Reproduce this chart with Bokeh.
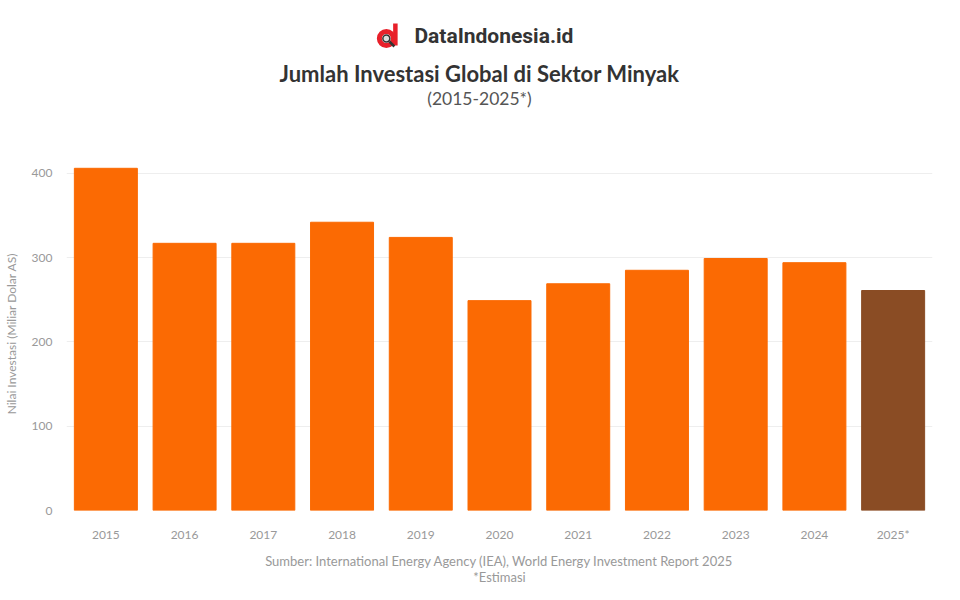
from bokeh.plotting import figure
from bokeh.models import ColumnDataSource, FixedTicker, Title
from bokeh.layouts import column
from bokeh.core.properties import value
from bokeh.embed import file_html
from bokeh.resources import INLINE

years = ["2015", "2016", "2017", "2018", "2019", "2020", "2021", "2022", "2023", "2024", "2025*"]
values = [406, 317, 317, 342, 324, 249, 269, 285, 299, 294, 261]
colors = ["#FB6A03"] * 10 + ["#8A4C24"]
y_ticks = [0, 100, 200, 300, 400]

W = 944
HH = 130
ML, MR = 64, 12
# ---------- header (data units ~ page pixels) ----------
h = figure(width=W, height=HH, x_range=(67.5, 932.5), y_range=(0, HH), output_backend="svg",
           toolbar_location=None, min_border_left=ML, min_border_right=MR,
           min_border_top=0, min_border_bottom=0)
h.axis.visible = False
h.grid.visible = False
h.outline_line_color = None
# logo (red "d" with magnifier)
h.circle(x=[387], y=[HH - 38], radius=7, fill_color="white", line_color="#E8202A", line_width=5)
h.rect(x=[396], y=[HH - 34], width=4.5, height=22, fill_color="#E8202A", line_color=None)
h.circle(x=[387], y=[HH - 38], radius=3.5, fill_color="#dddddd", line_color="#333333", line_width=1.5)
h.segment(x0=[390], y0=[HH - 41], x1=[395], y1=[HH - 46], line_color="#333333", line_width=2.5)
h.text(x=[415], y=[HH - 35], text=["DataIndonesia.id"], text_font=value("Roboto"),
       text_font_style="bold", text_font_size="21px", text_color="#333333",
       text_align="left", text_baseline="middle")
h.text(x=[480], y=[HH - 73], text=["Jumlah Investasi Global di Sektor Minyak"], text_font=value("Lato"),
       text_font_style="bold", text_font_size="22px", text_color="#333333",
       text_align="center", text_baseline="middle")
h.text(x=[480], y=[HH - 98], text=["(2015-2025*)"], text_font=value("Lato"),
       text_font_size="17.5px", text_color="#555555",
       text_align="center", text_baseline="middle")

# ---------- chart ----------
src = ColumnDataSource(dict(x=years, top=values, color=colors))
p = figure(x_range=years, y_range=(0, 420), width=W, height=584 - HH,
           output_backend="svg", toolbar_location=None,
           min_border_left=ML, min_border_right=MR, min_border_top=26, min_border_bottom=10)
p.vbar(x="x", top="top", width=0.8, color="color", source=src)

p.outline_line_color = None
p.xgrid.grid_line_color = None
p.ygrid.grid_line_color = "#eeeeee"
p.yaxis.ticker = FixedTicker(ticks=y_ticks)
for ax in (p.xaxis[0], p.yaxis[0]):
    ax.axis_line_color = None
    ax.major_tick_line_color = None
    ax.minor_tick_line_color = None
    ax.major_label_text_color = "#999999"
    ax.major_label_text_font = "Lato"
    ax.major_label_text_font_size = "12px"
p.xaxis.major_label_standoff = 10
p.yaxis.major_label_standoff = 8
p.yaxis.axis_label = "Nilai Investasi (Miliar Dolar AS)"
p.yaxis.axis_label_text_font = "Lato"
p.yaxis.axis_label_text_font_style = "normal"
p.yaxis.axis_label_text_font_size = "12px"
p.yaxis.axis_label_text_color = "#999999"
p.yaxis.axis_label_standoff = 10

p.add_layout(Title(text=" ", text_font_size="6px", standoff=0), "below")
for t, so in [("Sumber: International Energy Agency (IEA), World Energy Investment Report 2025", -4),
              ("*Estimasi", 0)]:
    p.add_layout(Title(text=t, align="center", offset=-21, text_font="Lato", text_font_size="13px",
                       text_font_style="normal", text_color="#999999", standoff=so), "below")

open("out.html", "w").write(file_html(column(h, p, spacing=0), INLINE))
